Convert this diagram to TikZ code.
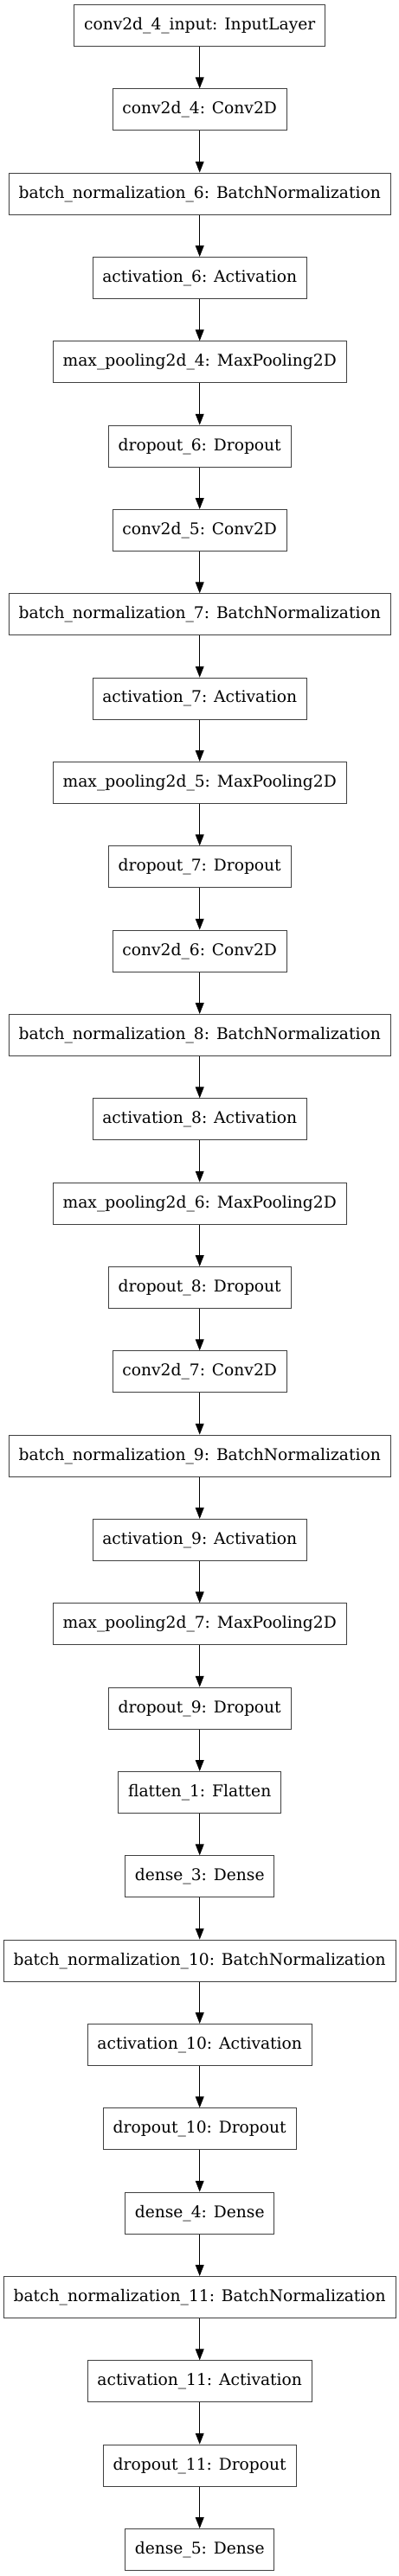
\documentclass[tikz,border=0pt]{standalone}
\usepackage{fontspec}
\setmainfont{DejaVu Serif}
\usetikzlibrary{arrows.meta}
\tikzset{
	layer/.style={draw=black!75, line width=0.75bp, rectangle, minimum height=1.27cm, inner xsep=0.3cm, inner ysep=0pt, font=\fontsize{14bp}{16bp}\selectfont},
	flow/.style={black, line width=0.75bp, -{Triangle[length=3.4mm, width=2.6mm]}}
}
\begin{document}
\begin{tikzpicture}
		\useasboundingbox (-6.104, 0.780) rectangle (6.093, -78.065);
		\node [layer] at (0, 0) (in4) {conv2d\_4\_input: InputLayer};
		\node [layer] at (0, -2.575) (conv4) {conv2d\_4: Conv2D};
		\node [layer] at (0, -5.150) (bn6) {batch\_normalization\_6: BatchNormalization};
		\node [layer] at (0, -7.726) (act6) {activation\_6: Activation};
		\node [layer] at (0, -10.301) (pool4) {max\_pooling2d\_4: MaxPooling2D};
		\node [layer] at (0, -12.876) (drop6) {dropout\_6: Dropout};
		\node [layer] at (0, -15.451) (conv5) {conv2d\_5: Conv2D};
		\node [layer] at (0, -18.026) (bn7) {batch\_normalization\_7: BatchNormalization};
		\node [layer] at (0, -20.602) (act7) {activation\_7: Activation};
		\node [layer] at (0, -23.177) (pool5) {max\_pooling2d\_5: MaxPooling2D};
		\node [layer] at (0, -25.752) (drop7) {dropout\_7: Dropout};
		\node [layer] at (0, -28.327) (conv6) {conv2d\_6: Conv2D};
		\node [layer] at (0, -30.902) (bn8) {batch\_normalization\_8: BatchNormalization};
		\node [layer] at (0, -33.478) (act8) {activation\_8: Activation};
		\node [layer] at (0, -36.053) (pool6) {max\_pooling2d\_6: MaxPooling2D};
		\node [layer] at (0, -38.628) (drop8) {dropout\_8: Dropout};
		\node [layer] at (0, -41.203) (conv7) {conv2d\_7: Conv2D};
		\node [layer] at (0, -43.778) (bn9) {batch\_normalization\_9: BatchNormalization};
		\node [layer] at (0, -46.354) (act9) {activation\_9: Activation};
		\node [layer] at (0, -48.929) (pool7) {max\_pooling2d\_7: MaxPooling2D};
		\node [layer] at (0, -51.504) (drop9) {dropout\_9: Dropout};
		\node [layer] at (0, -54.079) (flat1) {flatten\_1: Flatten};
		\node [layer] at (0, -56.654) (dense3) {dense\_3: Dense};
		\node [layer] at (0, -59.230) (bn10) {batch\_normalization\_10: BatchNormalization};
		\node [layer] at (0, -61.805) (act10) {activation\_10: Activation};
		\node [layer] at (0, -64.380) (drop10) {dropout\_10: Dropout};
		\node [layer] at (0, -66.955) (dense4) {dense\_4: Dense};
		\node [layer] at (0, -69.530) (bn11) {batch\_normalization\_11: BatchNormalization};
		\node [layer] at (0, -72.106) (act11) {activation\_11: Activation};
		\node [layer] at (0, -74.681) (drop11) {dropout\_11: Dropout};
		\node [layer] at (0, -77.256) (dense5) {dense\_5: Dense};
		\draw [flow] (in4) -- (conv4);
		\draw [flow] (conv4) -- (bn6);
		\draw [flow] (bn6) -- (act6);
		\draw [flow] (act6) -- (pool4);
		\draw [flow] (pool4) -- (drop6);
		\draw [flow] (drop6) -- (conv5);
		\draw [flow] (conv5) -- (bn7);
		\draw [flow] (bn7) -- (act7);
		\draw [flow] (act7) -- (pool5);
		\draw [flow] (pool5) -- (drop7);
		\draw [flow] (drop7) -- (conv6);
		\draw [flow] (conv6) -- (bn8);
		\draw [flow] (bn8) -- (act8);
		\draw [flow] (act8) -- (pool6);
		\draw [flow] (pool6) -- (drop8);
		\draw [flow] (drop8) -- (conv7);
		\draw [flow] (conv7) -- (bn9);
		\draw [flow] (bn9) -- (act9);
		\draw [flow] (act9) -- (pool7);
		\draw [flow] (pool7) -- (drop9);
		\draw [flow] (drop9) -- (flat1);
		\draw [flow] (flat1) -- (dense3);
		\draw [flow] (dense3) -- (bn10);
		\draw [flow] (bn10) -- (act10);
		\draw [flow] (act10) -- (drop10);
		\draw [flow] (drop10) -- (dense4);
		\draw [flow] (dense4) -- (bn11);
		\draw [flow] (bn11) -- (act11);
		\draw [flow] (act11) -- (drop11);
		\draw [flow] (drop11) -- (dense5);
	\end{tikzpicture}
\end{document}
